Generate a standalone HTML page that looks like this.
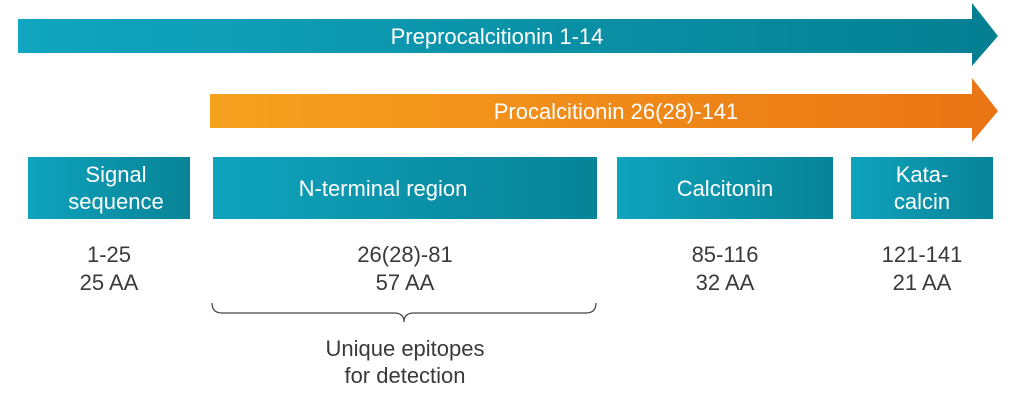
<!DOCTYPE html>
<html><head><style>
body{margin:0;width:1024px;height:401px;background:#fff;overflow:hidden;position:relative;font-family:"Liberation Sans",sans-serif;}
.t{position:absolute;text-align:center;color:#3a3a3a;font-size:22px;line-height:28px;}
.b{position:absolute;top:157px;height:62px;background:linear-gradient(90deg,#0fa3bd,#078396);color:#fff;font-size:22px;display:flex;align-items:center;justify-content:center;text-align:center;line-height:27px;box-sizing:border-box;}
</style></head><body>
<svg width="1024" height="401" style="position:absolute;left:0;top:0">
<defs>
<linearGradient id="g1" x1="0" x2="1"><stop offset="0" stop-color="#10a6bf"/><stop offset="1" stop-color="#057f92"/></linearGradient>
<linearGradient id="g2" x1="0" x2="1"><stop offset="0" stop-color="#f6a21f"/><stop offset="1" stop-color="#e97414"/></linearGradient>
</defs>
<polygon points="18,19 972,19 972,3 998,36 972,66 972,53 18,53" fill="url(#g1)"/>
<polygon points="210,94 972,94 972,78 998,111 972,142 972,128 210,128" fill="url(#g2)"/>
<path d="M212,303 Q212,313 222,313 L394,313 Q404,313 404,322 Q404,313 414,313 L586,313 Q596,313 596,303" fill="none" stroke="#444" stroke-width="1.2"/>
<text x="497" y="44" fill="#fff" font-size="22" text-anchor="middle" font-family="Liberation Sans">Preprocalcitionin 1-14</text>
<text x="616" y="119" fill="#fff" font-size="22" text-anchor="middle" font-family="Liberation Sans">Procalcitionin 26(28)-141</text>
</svg>
<div class="b" style="left:28px;width:162px;padding-left:14px">Signal<br>sequence</div>
<div class="b" style="left:213px;width:384px;padding-right:44px">N-terminal region</div>
<div class="b" style="left:617px;width:216px">Calcitonin</div>
<div class="b" style="left:851px;width:142px">Kata-<br>calcin</div>
<div class="t" style="left:28px;width:162px;top:241px">1-25<br>25 AA</div>
<div class="t" style="left:213px;width:384px;top:241px">26(28)-81<br>57 AA</div>
<div class="t" style="left:617px;width:216px;top:241px">85-116<br>32 AA</div>
<div class="t" style="left:851px;width:142px;top:241px">121-141<br>21 AA</div>
<div class="t" style="left:213px;width:384px;top:335px;line-height:27px">Unique epitopes<br>for detection</div>
</body></html>
